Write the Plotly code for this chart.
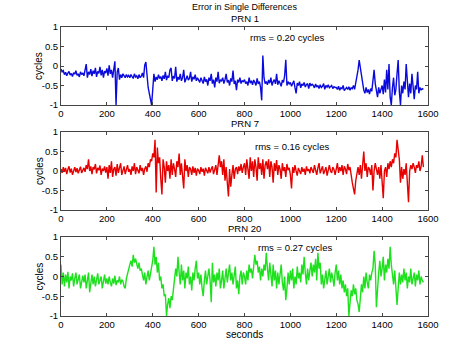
import numpy as np
import plotly.graph_objects as go

prn1_rows = [
    [-0.08,-0.15,-0.12,-0.22,-0.16,-0.25,-0.18,-0.14,-0.23,-0.19,-0.27,-0.17,-0.21,-0.12,-0.24,-0.2,-0.28,-0.15,-0.22,-0.18],
    [-0.25,-0.1,0.05,-0.3,-0.15,-0.22,-0.08,-0.26,-0.12,-0.2,-0.05,-0.28,-0.14,-0.19,-0.02,-0.24,-0.1,-0.3,-0.13,-0.18],
    [-0.06,-0.25,0.02,-0.2,-0.1,-0.3,0.0,0.12,-1.0,-0.15,-0.05,-0.35,-0.22,-0.3,-0.2,-0.26,-0.3,-0.22,-0.28,-0.24],
    [-0.3,-0.22,-0.27,-0.32,-0.2,-0.28,-0.25,-0.33,-0.22,-0.3,-0.26,-0.18,-0.3,0.02,0.1,-0.35,-0.55,-0.7,-0.85,-1.0],
    [-0.6,-0.2,-0.4,-0.28,-0.35,-0.22,-0.32,-0.27,-0.38,-0.24,-0.33,-0.15,-0.36,-0.25,-0.3,-0.1,-0.05,-0.38,-0.26,-0.32],
    [-0.02,-0.4,-0.28,-0.35,-0.2,-0.38,-0.3,-0.1,-0.42,-0.3,-0.25,-0.36,-0.32,-0.15,-0.4,-0.28,-0.34,-0.22,-0.38,-0.3],
    [-0.35,-0.42,-0.3,-0.38,-0.45,-0.28,-0.4,-0.34,-0.5,-0.3,-0.38,-0.2,-0.45,-0.35,-0.55,-0.3,-0.4,-0.15,-0.44,-0.36],
    [-0.38,-0.3,-0.45,-0.35,-0.2,-0.42,-0.36,-0.5,-0.32,-0.4,-0.12,-0.46,-0.38,-0.62,-0.35,-0.42,-0.3,-0.45,-0.38,-0.4],
    [-0.35,-0.45,-0.4,-0.5,-0.3,-0.44,-0.38,-0.48,-0.36,-0.42,-0.5,-0.32,-0.46,-0.4,-0.55,-0.88,0.27,-0.3,-0.45,-0.4],
    [-0.48,-0.36,-0.44,-0.3,-0.5,-0.4,-0.35,-0.46,-0.2,-0.48,-0.38,-0.44,-0.52,-0.36,-0.42,-0.25,0.16,-0.5,-0.4,-0.46],
    [-0.42,-0.52,-0.45,-0.38,-0.55,-0.7,-0.44,-0.5,-0.4,-0.56,-0.46,-0.5,-0.42,-0.54,-0.48,-0.45,-0.58,-0.44,-0.5,-0.47],
    [-0.5,-0.56,-0.46,-0.54,-0.5,-0.58,-0.48,-0.55,-0.52,-0.45,-0.6,-0.5,-0.54,-0.48,-0.56,-0.52,-0.5,-0.58,-0.53,-0.55],
    [-0.55,-0.6,-0.52,-0.62,-0.56,-0.58,-0.5,-0.63,-0.57,-0.55,-0.6,-0.53,-0.62,-0.56,-0.58,-0.5,-0.6,-0.45,-0.3,-0.1],
    [0.15,-0.05,-0.35,-0.5,-0.62,-0.7,-0.55,-0.68,-0.6,-0.72,-0.58,-0.65,-0.3,-0.1,-0.45,-0.62,-0.8,-0.55,-0.7,-0.6],
    [-0.5,-0.72,-0.35,-0.68,-0.1,-0.6,0.05,-0.8,-1.0,-0.55,-0.3,-0.75,-0.6,-0.2,0.15,-0.65,-1.0,-0.5,-0.7,-0.4],
    [-0.6,0.05,-0.55,-0.8,-0.45,-0.7,-0.2,-0.65,-0.85,-0.5,-0.6,-0.15,-0.7,-0.55,-0.62,-0.58,-0.6],
]
prn7_rows = [
    [0.05,-0.05,0.1,-0.02,0.08,-0.08,0.04,0.12,-0.04,0.06,-0.1,0.03,0.1,-0.03,0.07,-0.06,0.02,0.11,-0.05,0.04],
    [0.08,-0.02,0.15,0.05,0.3,0.0,0.12,-0.08,0.1,0.04,0.18,-0.06,0.08,0.02,0.14,-0.1,0.06,0.0,0.12,-0.04],
    [0.1,-0.2,0.15,-0.05,0.25,-0.15,0.05,0.1,-0.12,0.18,-0.05,0.08,0.2,-0.1,0.05,0.12,-0.08,0.06,0.15,-0.02],
    [0.05,-0.1,0.12,0.0,0.2,-0.08,0.1,0.02,-0.06,0.15,0.0,0.08,-0.1,0.05,0.12,-0.02,0.2,0.1,0.3,0.25],
    [0.45,0.35,0.8,-0.55,0.6,0.2,0.35,-0.2,-0.6,0.3,0.1,-0.3,0.25,0.0,0.15,-0.2,0.3,-0.1,0.2,0.05],
    [-0.15,0.25,0.1,0.45,-0.1,0.2,-0.2,-0.45,0.3,0.0,0.15,-0.15,0.1,0.05,-0.1,0.12,-0.05,0.08,-0.12,0.06],
    [0.02,-0.08,0.1,-0.02,0.06,-0.12,0.08,0.0,-0.06,0.1,-0.04,0.05,0.12,-0.08,0.03,0.15,-0.1,0.2,0.4,0.1],
    [0.25,-0.1,0.3,-0.25,0.1,-0.3,-0.65,0.05,-0.4,-0.1,0.15,-0.2,0.05,0.1,-0.08,0.12,0.0,0.18,-0.05,0.1],
    [0.2,-0.1,0.3,0.05,-0.2,0.35,0.0,0.25,-0.15,0.3,0.1,-0.25,0.35,0.05,0.2,-0.1,0.3,-0.2,0.15,0.25],
    [0.05,0.3,-0.15,0.25,0.1,-0.3,0.2,0.0,0.28,-0.1,0.15,0.05,-0.2,0.2,0.0,0.1,-0.15,0.18,0.02,0.08],
    [-0.1,-0.45,0.1,-0.05,0.15,0.0,-0.12,0.08,0.02,-0.08,0.1,-0.02,0.06,-0.1,0.12,0.0,0.05,-0.06,0.1,0.02],
    [-0.05,0.15,0.02,-0.1,0.08,0.2,-0.06,0.05,0.12,-0.08,0.03,0.1,-0.12,0.06,0.15,0.0,-0.05,0.1,0.04,-0.1],
    [0.08,0.2,-0.05,0.1,0.0,0.15,-0.1,0.12,0.05,-0.08,0.18,0.02,0.1,-0.15,-0.3,-0.45,-0.6,-0.25,-0.05,0.1],
    [-0.1,0.15,-0.2,0.1,0.5,0.0,0.2,-0.15,0.1,0.05,-0.1,0.15,-0.5,0.0,0.2,0.05,-0.1,0.1,-0.2,0.15],
    [-0.2,-0.7,0.0,0.1,-0.15,0.2,0.05,0.25,0.1,0.3,0.2,0.45,0.35,0.8,0.55,0.3,-0.3,0.1,-0.2,0.05],
    [-0.1,0.2,-0.3,-0.8,0.0,0.15,0.05,0.2,0.1,-0.05,0.15,0.08,0.25,0.0,0.12,0.4,0.1],
]
prn20_rows = [
    [0.3,-0.2,0.1,-0.25,0.05,-0.15,0.12,-0.3,0.0,-0.1,0.08,-0.25,-0.05,0.1,-0.2,-0.08,0.05,-0.3,-0.1,0.02],
    [-0.15,0.05,-0.3,-0.05,0.1,-0.4,-0.1,0.05,-0.2,0.0,-0.25,-0.05,0.08,-0.2,-0.1,0.0,-0.3,-0.08,0.05,-0.18],
    [-0.05,-0.2,0.0,-0.15,-0.25,-0.05,-0.18,0.02,-0.22,-0.1,-0.15,0.0,-0.2,-0.08,-0.12,-0.25,-0.3,-0.05,0.1,0.2],
    [0.3,0.4,0.25,0.55,0.35,0.45,0.3,0.2,0.35,0.15,0.2,0.05,-0.1,0.1,-0.2,0.0,0.15,-0.1,0.05,0.2],
    [0.4,0.75,0.3,0.5,0.1,0.35,-0.1,0.0,-0.3,-0.2,-0.5,-0.45,-1.0,-0.7,-0.55,-0.8,-0.5,-0.6,-0.3,-0.1],
    [0.2,0.0,0.5,0.1,-0.2,0.3,-0.1,0.15,-0.3,0.1,-0.05,0.25,-0.2,0.0,-0.35,0.1,-0.1,0.2,0.4,-0.05],
    [0.1,-0.2,0.05,-0.3,-0.5,-0.1,0.15,-0.2,0.0,0.2,-0.1,-0.65,0.35,-0.15,0.05,-0.25,0.1,-0.1,0.2,-0.3],
    [-0.1,0.15,-0.3,0.0,0.2,-0.15,0.05,0.3,-0.1,0.1,-0.2,0.05,0.25,-0.3,-0.1,-0.45,0.0,0.15,-0.2,0.1],
    [0.0,-0.2,0.15,-0.1,0.3,0.1,0.2,-0.05,0.35,0.55,0.3,0.4,0.1,0.25,-0.1,0.2,0.0,0.3,0.15,0.6],
    [0.2,-0.1,0.35,0.0,-0.25,0.3,-0.1,0.15,-0.3,0.1,-0.2,0.05,0.3,-0.15,-0.35,0.0,-0.6,-0.3,0.1,-0.2],
    [0.15,-0.1,0.2,-0.3,0.0,-0.2,0.25,-0.05,0.1,-0.15,0.3,0.05,0.5,0.1,-0.2,0.2,-0.1,0.15,0.35,0.0],
    [0.3,0.1,0.45,-0.1,0.6,0.2,0.35,-0.2,0.05,-0.3,-0.1,0.15,-0.2,0.0,0.2,-0.15,0.1,-0.05,-0.25,0.1],
    [0.3,-0.1,0.15,-0.2,0.05,-0.3,-0.1,-0.4,-0.2,-0.5,-0.3,-1.0,-0.6,-0.35,-0.5,-0.2,-0.45,-0.3,-0.6,-0.7],
    [-0.9,-0.5,-0.2,-0.4,0.0,-0.3,0.1,-0.15,-0.3,0.05,-0.1,0.1,0.2,0.65,0.3,-0.78,-0.2,0.1,0.4,0.0],
    [0.2,0.5,-0.1,0.3,0.1,0.45,0.2,0.75,0.3,0.0,-0.2,0.15,-0.4,-0.72,-0.3,0.1,-0.2,0.05,-0.15,0.2],
    [-0.1,0.1,-0.3,0.0,-0.15,0.2,-0.2,-0.05,0.1,-0.25,0.05,-0.1,0.15,-0.2,0.0,-0.1,-0.15],
]
panel_titles = ["PRN 1", "PRN 7", "PRN 20"]
rms_labels = ["rms = 0.20 cycles", "rms = 0.16 cycles", "rms = 0.27 cycles"]
x_ticks = [0, 200, 400, 600, 800, 1000, 1200, 1400, 1600]
y_ticks = [-1, -0.5, 0, 0.5, 1]
y_tick_text = ["-1", "-0.5", "0", "0.5", "1"]
sample_step = 5

series = [sum(r, []) for r in (prn1_rows, prn7_rows, prn20_rows)]
colors = ["rgb(10,10,220)", "rgb(230,0,0)", "rgb(30,225,30)"]

W, H = 474, 355
x_dom = [61 / W, 428 / W]
panels_px = [(27, 105), (132, 210), (237, 316)]  # top, bottom in px
title_px = [18, 123.5, 228.5]
rms_pos = [(248, 38), (253, 146), (256, 248)]
FONT = "Liberation Sans, Arial, sans-serif"
FS = 9

fig = go.Figure()
layout = dict(width=W, height=H, margin=dict(l=0, r=0, t=0, b=0, autoexpand=False),
              paper_bgcolor="white", plot_bgcolor="white", showlegend=False,
              font=dict(family=FONT, size=FS, color="black"))
annotations = []
for i, vals in enumerate(series):
    n = i + 1
    xa = "x" if n == 1 else f"x{n}"
    ya = "y" if n == 1 else f"y{n}"
    t = np.arange(len(vals)) * sample_step
    fig.add_trace(go.Scatter(x=t, y=vals, mode="lines", xaxis=xa, yaxis=ya,
                             line=dict(color=colors[i], width=1.4)))
    top, bot = panels_px[i]
    ydom = [1 - bot / H, 1 - top / H]
    axcommon = dict(showline=True, linecolor="#444", linewidth=1, mirror="ticks",
                    ticks="inside", ticklen=3, tickcolor="#444", showgrid=False,
                    zeroline=False, automargin=False,
                    tickfont=dict(family=FONT, size=FS + 0.5, color="black"))
    layout["xaxis" if n == 1 else f"xaxis{n}"] = dict(
        domain=x_dom, range=[0, 1600], tickvals=x_ticks, anchor=ya, **axcommon)
    layout["yaxis" if n == 1 else f"yaxis{n}"] = dict(
        domain=ydom, range=[-1, 1], tickvals=y_ticks, ticktext=y_tick_text,
        anchor=xa, **axcommon)
    annotations.append(dict(text=panel_titles[i], xref="paper", yref="paper",
                            x=(x_dom[0] + x_dom[1]) / 2, y=1 - title_px[i] / H,
                            yanchor="middle", showarrow=False, font=dict(size=FS + 0.5)))
    annotations.append(dict(text="cycles", xref="paper", yref="paper", textangle=-90,
                            x=39 / W, y=1 - (top + bot) / 2 / H, xanchor="center",
                            yanchor="middle", showarrow=False, font=dict(size=FS + 1)))
    rx, ry = rms_pos[i]
    annotations.append(dict(text=rms_labels[i], xref="paper", yref="paper",
                            x=rx / W, y=1 - ry / H, xanchor="left", yanchor="middle",
                            showarrow=False, font=dict(size=FS + 0.5)))

annotations.append(dict(text="Error in Single Differences", xref="paper", yref="paper",
                        x=(x_dom[0] + x_dom[1]) / 2, y=1 - 7 / H, yanchor="middle",
                        showarrow=False, font=dict(size=FS)))
annotations.append(dict(text="seconds", xref="paper", yref="paper",
                        x=(x_dom[0] + x_dom[1]) / 2, y=1 - 334 / H, yanchor="middle",
                        showarrow=False, font=dict(size=FS + 1)))
layout["annotations"] = annotations
fig.update_layout(**layout)
fig.write_html("out.html", config={"displayModeBar": False},
               post_script="document.body.style.margin='0';document.body.style.overflow='hidden';")
